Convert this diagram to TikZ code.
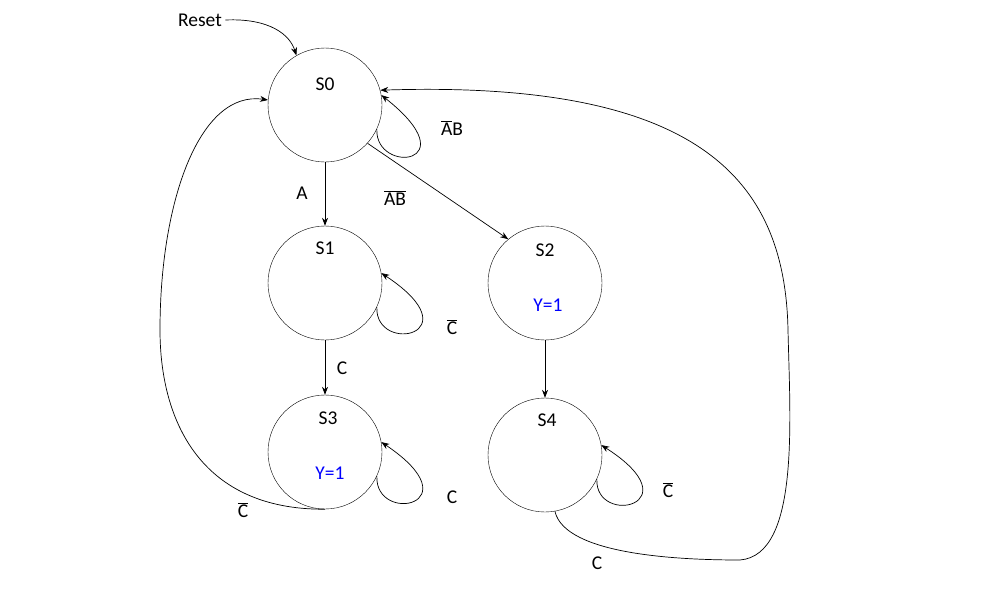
\documentclass[tikz,border=0pt]{standalone}
\usepackage{fontspec}
\setmainfont{Carlito}
\usetikzlibrary{arrows.meta}
\newcommand{\ob}[1]{$\overline{\mbox{#1}}$}
\begin{document}
\begin{tikzpicture}[x=1pt,y=-1pt,
  st/.style={circle,draw,minimum size=114pt,inner sep=0pt},
  ar/.style={draw,-{Stealth[length=8pt,width=6pt]},line width=0.7pt},
  every node/.style={font=\fontsize{19.5}{22}\selectfont}]
\useasboundingbox (0,0) rectangle (1004,608);
\node[st] (s0) at (325,105) {};
\node[st] (s1) at (325,283) {};
\node[st] (s3) at (325,452) {};
\node[st] (s2) at (545,283) {};
\node[st] (s4) at (545,455) {};
\node at (325,84) {S0};
\node at (325,248) {S1};
\node at (545,250) {S2};
\node at (328,418) {S3};
\node at (547,420) {S4};
\node[text=blue] at (548,305) {Y=1};
\node[text=blue] at (330,473) {Y=1};
\node (reset) at (200,20) {Reset};
\draw[ar] (reset.east) .. controls (270,18) and (290,35) .. (s0.120);
% self loops
\draw[ar] (s0.-25) .. controls (375,175) and (470,165) .. (s0.10);
\node at (452,128) {\ob{A}B};
\draw[ar] (s1.-25) .. controls (375,355) and (475,335) .. (s1.10);
\node at (452,327) {\ob{C}};
\draw[ar] (s3.-25) .. controls (375,525) and (475,505) .. (s3.10);
\node at (452,497) {C};
\draw[ar] (s4.-25) .. controls (595,527) and (695,505) .. (s4.10);
\node at (668,490) {\ob{C}};
% edges
\draw[ar] (s0) -- (s1);
\node at (302,193) {A};
\draw[ar] (s0.-42) -- (s2.130);
\node at (395,198) {\ob{A}\ob{B}};
\draw[ar] (s1) -- (s3);
\node at (342,368) {C};
\draw[ar] (s2) -- (s4);
\draw[ar] (s3.-90) .. controls (200,510) and (160,420) .. (160,330) .. controls (160,200) and (200,90) .. (s0.175);
\node at (243,510) {\ob{C}};
\draw[ar] (s4.-80) .. controls (565,555) and (680,560) .. (740,560) .. controls (800,555) and (790,420) .. (788,330) .. controls (785,180) and (700,80) .. (s0.15);
\node at (597,563) {C};
\end{tikzpicture}
\end{document}
